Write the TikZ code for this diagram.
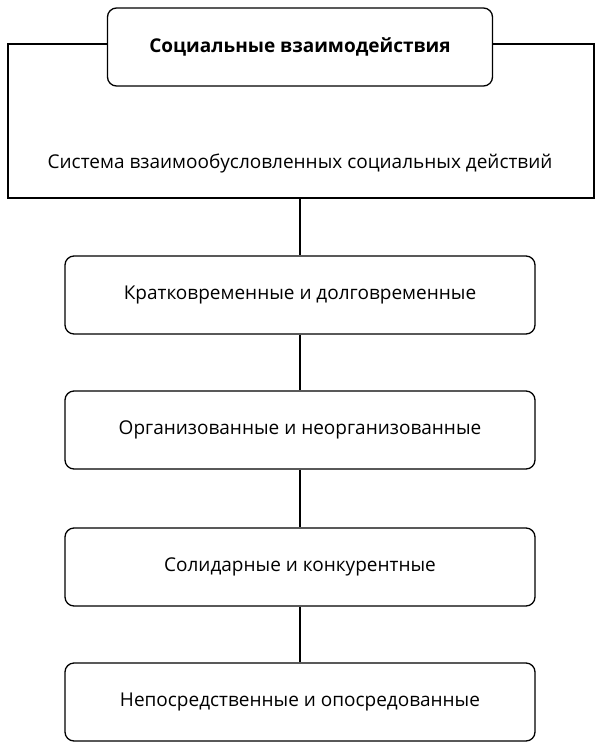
\documentclass[tikz,border=0pt]{standalone}
\usepackage{fontspec}
\setmainfont{Open Sans}
\usetikzlibrary{positioning}
\begin{document}
\begin{tikzpicture}[x=1pt,y=-1pt,line width=1.3pt,
    kind/.style={draw,rounded corners=9pt,fill=white,minimum width=470pt,minimum height=78pt,font=\fontsize{19}{21}\selectfont}]
      \useasboundingbox (0,0) rectangle (600,748);
      \draw (8,44) rectangle (594,198);
      \node[kind,minimum width=385pt,font=\fontsize{19}{21}\selectfont\bfseries] (T) at (300,47) {Социальные взаимодействия};
      \node[font=\fontsize{19}{21}\selectfont] (S) at (300,163) {Система взаимообусловленных социальных действий};
      \coordinate (R) at (300,198);
      \node[kind] (K1) at (300,295) {Кратковременные и долговременные};
      \node[kind] (K2) at (300,430) {Организованные и неорганизованные};
      \node[kind] (K3) at (300,567) {Солидарные и конкурентные};
      \node[kind] (K4) at (300,702) {Непосредственные и опосредованные};
      \draw (R) -- (K1);
      \draw (K1) -- (K2);
      \draw (K2) -- (K3);
      \draw (K3) -- (K4);
    \end{tikzpicture}
\end{document}
